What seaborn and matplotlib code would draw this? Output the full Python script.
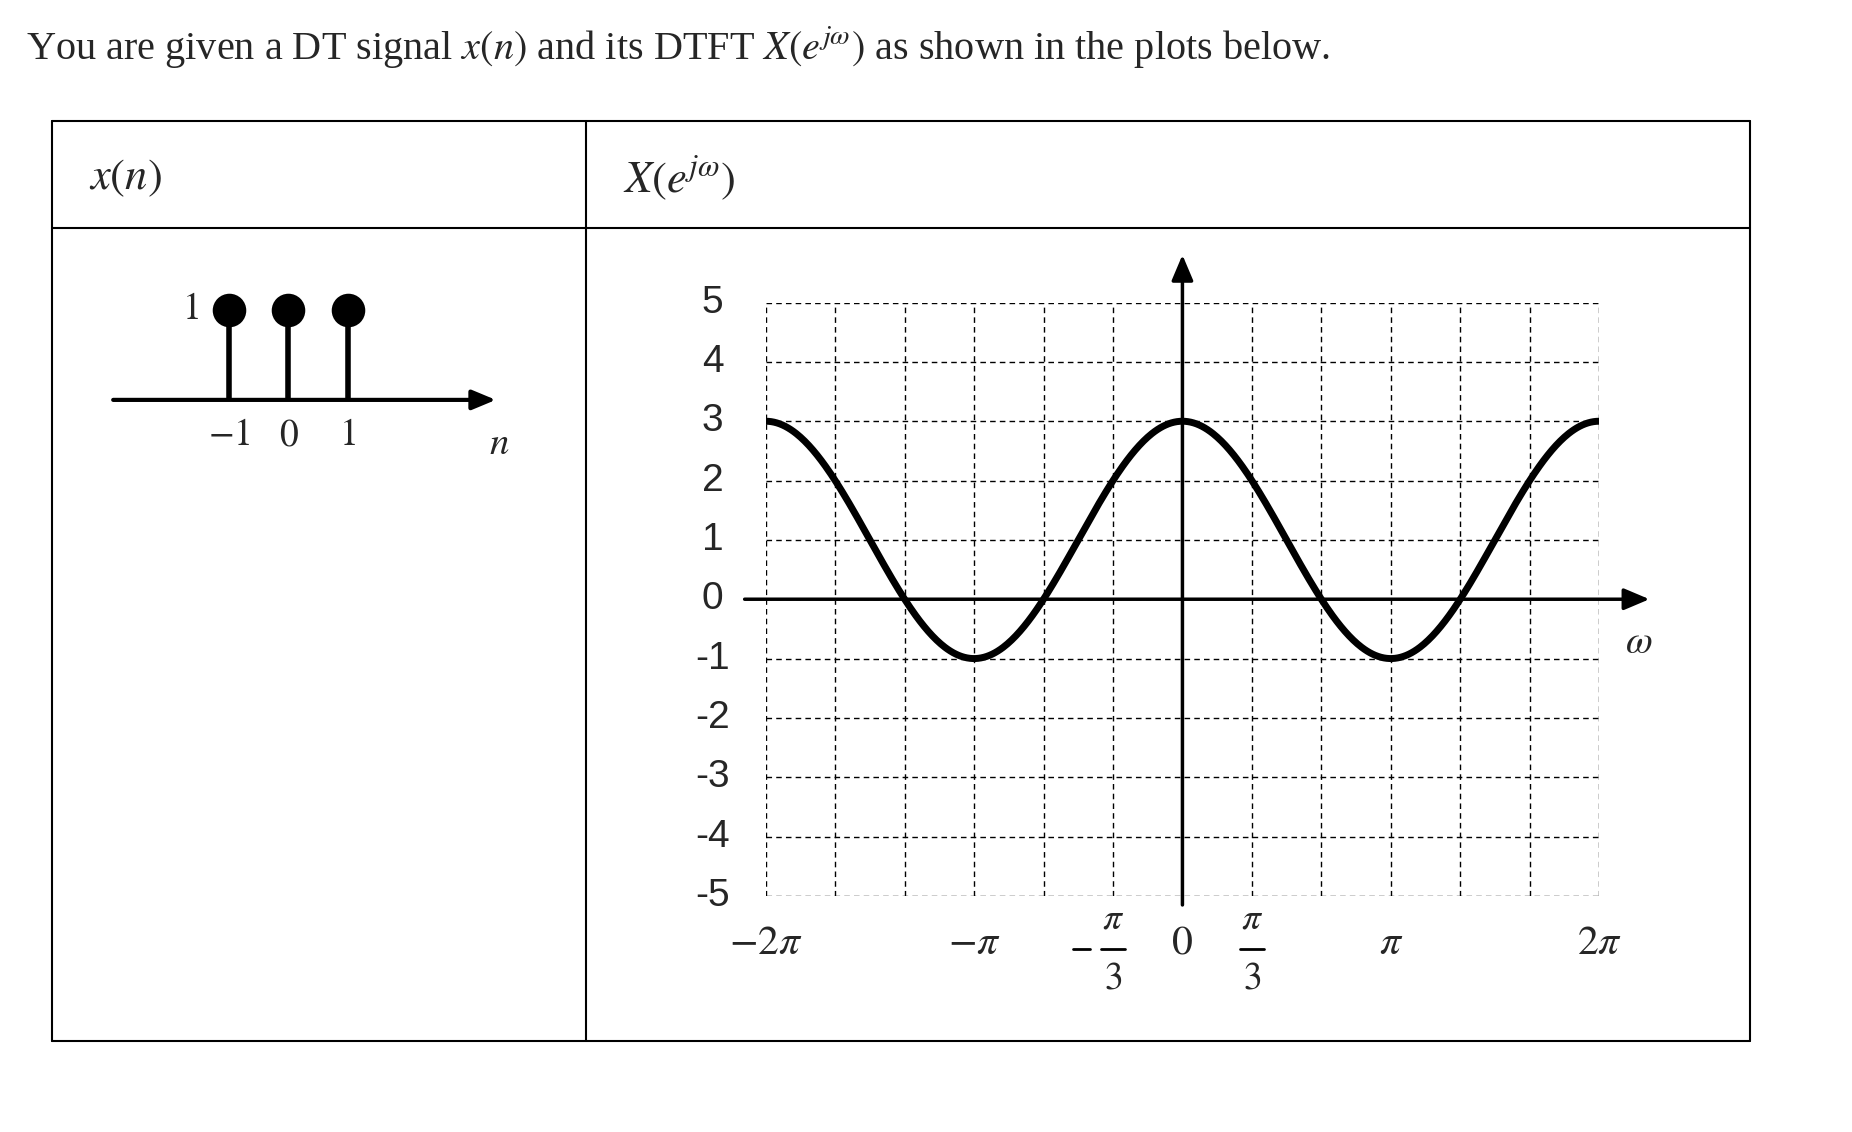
import numpy as np
import pandas as pd
import matplotlib
matplotlib.use("Agg")
import matplotlib.pyplot as plt
import seaborn as sns
from matplotlib.lines import Line2D

sns.set_theme(style="white")
plt.rcParams['font.family'] = ['Liberation Serif', 'DejaVu Serif']
plt.rcParams['mathtext.fontset'] = 'stix'

# data
n_vals = [-1, 0, 1]
x_vals = [1, 1, 1]
omega = np.linspace(-2 * np.pi, 2 * np.pi, 601)
X_vals = 1 + 2 * np.cos(omega)
y_ticks = [5, 4, 3, 2, 1, 0, -1, -2, -3, -4, -5]
x_tick_pos = [-2 * np.pi, -np.pi, 0, np.pi, 2 * np.pi]
x_tick_lab = [r'$-2\pi$', r'$-\pi$', r'$0$', r'$\pi$', r'$2\pi$']
frac_pos = [-np.pi / 3, np.pi / 3]

W, H = 1560, 954
fig = plt.figure(figsize=(18.52, 11.32), dpi=100)

def fx(x): return x / W
def fy(y): return 1 - y / H

# title
fig.text(fx(22), fy(40), r'You are given a DT signal $x(n)$ and its DTFT $X\left(e^{j\omega}\right)$ as shown in the plots below.',
         fontsize=29, va='center', ha='left')

# table
lw_t = 1.5
xr = 1474
for (x0, y0, x1, y1) in [(44, 102, xr, 102), (44, 877, xr, 877), (44, 102, 44, 877),
                         (xr, 102, xr, 877), (494, 102, 494, 877), (44, 192, xr, 192)]:
    fig.add_artist(Line2D([fx(x0), fx(x1)], [fy(y0), fy(y1)], color='black', lw=lw_t))
fig.text(fx(75), fy(150), r'$x(n)$', fontsize=32, va='center')
fig.text(fx(525), fy(150), r'$X\left(e^{j\omega}\right)$', fontsize=32, va='center')

# left stem plot
ax1 = fig.add_axes([fx(93), fy(400), (420 - 93) / W, (400 - 230) / H])
ax1.set_xlim(-3, 3.54)
ax1.set_ylim(-0.83, 1.41)
ax1.axis('off')
ax1.annotate('', xy=(3.54, 0), xytext=(-3, 0),
             arrowprops=dict(arrowstyle='-|>,head_length=1.2,head_width=0.5', color='black', lw=3))
ax1.vlines(n_vals, 0, x_vals, color='black', lw=4)
sns.scatterplot(x=n_vals, y=x_vals, ax=ax1, color='black', s=500, edgecolor='black', zorder=5)
for n in n_vals:
    ax1.text(n, -0.4, r'$%d$' % n if n >= 0 else r'$-1$', fontsize=27, ha='center', va='center')
ax1.text(-1.65, 1.0, r'$1$', fontsize=27, ha='center', va='center')
ax1.text(3.55, -0.5, r'$n$', fontsize=28, ha='center', va='center')

# right DTFT plot
ax2 = fig.add_axes([fx(645), fy(755), (1347 - 645) / W, (755 - 255) / H])
ax2.set_xlim(-2 * np.pi, 2 * np.pi)
ax2.set_ylim(-5, 5)
ax2.axis('off')
for k in range(-6, 7):
    ax2.plot([k * np.pi / 3] * 2, [-5, 5], color='black', lw=1, ls=(0, (4, 3)), zorder=1)
for y in y_ticks:
    ax2.plot([-2 * np.pi, 2 * np.pi], [y, y], color='black', lw=1, ls=(0, (4, 3)), zorder=1)
ax2.annotate('', xy=(2 * np.pi + 0.8, 0), xytext=(-2 * np.pi - 0.36, 0), annotation_clip=False,
             arrowprops=dict(arrowstyle='-|>,head_length=1.3,head_width=0.55', color='black', lw=2.5))
ax2.annotate('', xy=(0, 5.85), xytext=(0, -5.2), annotation_clip=False,
             arrowprops=dict(arrowstyle='-|>,head_length=1.3,head_width=0.55', color='black', lw=2.5))
sns.lineplot(x=omega, y=X_vals, ax=ax2, color='black', lw=5, zorder=4)
for y in y_ticks:
    ax2.text(-2 * np.pi - 0.8, y, str(y), fontsize=28, ha='center', va='center', family='Liberation Sans')
for p, lab in zip(x_tick_pos, x_tick_lab):
    ax2.text(p, -5.8, lab, fontsize=30, ha='center', va='center')
for p in frac_pos:
    ax2.text(p, -5.4, r'$\pi$', fontsize=27, ha='center', va='center')
    ax2.text(p, -6.4, r'$3$', fontsize=27, ha='center', va='center')
    ax2.plot([p - 0.18, p + 0.18], [-5.9, -5.9], color='black', lw=2, clip_on=False)
ax2.plot([-np.pi / 3 - 0.6, -np.pi / 3 - 0.35], [-5.9, -5.9], color='black', lw=2, clip_on=False)
ax2.text(2 * np.pi + 0.6, -0.75, r'$\omega$', fontsize=28, ha='center', va='center')

fig.savefig('out.png', dpi=100, facecolor='white')
